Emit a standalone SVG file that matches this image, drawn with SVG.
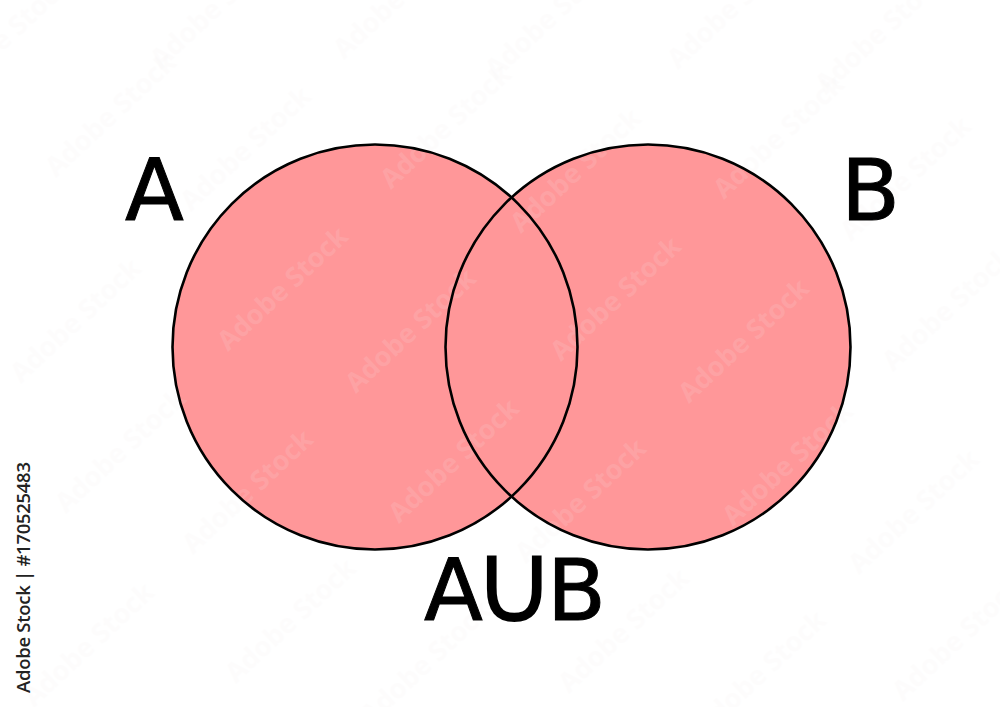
<svg xmlns="http://www.w3.org/2000/svg" width="1000" height="707" viewBox="0 0 1000 707">
<style>
.c{fill:#ff9799;stroke:none}
.o{fill:none;stroke:#000;stroke-width:2.6}
.t{font-family:"DejaVu Sans","Liberation Sans",sans-serif;fill:#000;stroke:#000;stroke-width:1;font-size:86px}
.w{font-family:"Open Sans","Liberation Sans",sans-serif;font-weight:700;font-size:27px;fill:#f4eeee;opacity:.13}
</style>
<rect width="1000" height="707" fill="#fff"/>
<g id="circle-a"><circle class="c" cx="375" cy="347" r="202.500"/></g>
<g id="circle-b"><circle class="c" cx="648" cy="347" r="202.500"/></g>
<g id="watermark">
<text class="w" transform="translate(-49 100) rotate(-43)">Adobe Stock</text>
<text class="w" transform="translate(161 70) rotate(-43)">Adobe Stock</text>
<text class="w" transform="translate(344 60) rotate(-43)">Adobe Stock</text>
<text class="w" transform="translate(496 80) rotate(-43)">Adobe Stock</text>
<text class="w" transform="translate(678 70) rotate(-43)">Adobe Stock</text>
<text class="w" transform="translate(826 95) rotate(-43)">Adobe Stock</text>
<text class="w" transform="translate(56 178) rotate(-43)">Adobe Stock</text>
<text class="w" transform="translate(191 212) rotate(-43)">Adobe Stock</text>
<text class="w" transform="translate(391 190) rotate(-43)">Adobe Stock</text>
<text class="w" transform="translate(521 234) rotate(-43)">Adobe Stock</text>
<text class="w" transform="translate(724 200) rotate(-43)">Adobe Stock</text>
<text class="w" transform="translate(851 242) rotate(-43)">Adobe Stock</text>
<text class="w" transform="translate(21 384) rotate(-43)">Adobe Stock</text>
<text class="w" transform="translate(228 352) rotate(-43)">Adobe Stock</text>
<text class="w" transform="translate(356 394) rotate(-43)">Adobe Stock</text>
<text class="w" transform="translate(561 362) rotate(-43)">Adobe Stock</text>
<text class="w" transform="translate(689 404) rotate(-43)">Adobe Stock</text>
<text class="w" transform="translate(893 372) rotate(-43)">Adobe Stock</text>
<text class="w" transform="translate(66 514) rotate(-43)">Adobe Stock</text>
<text class="w" transform="translate(193 555) rotate(-43)">Adobe Stock</text>
<text class="w" transform="translate(399 524) rotate(-43)">Adobe Stock</text>
<text class="w" transform="translate(526 564) rotate(-43)">Adobe Stock</text>
<text class="w" transform="translate(733 527) rotate(-43)">Adobe Stock</text>
<text class="w" transform="translate(859 575) rotate(-43)">Adobe Stock</text>
<text class="w" transform="translate(34 708) rotate(-43)">Adobe Stock</text>
<text class="w" transform="translate(236 684) rotate(-43)">Adobe Stock</text>
<text class="w" transform="translate(371 726) rotate(-43)">Adobe Stock</text>
<text class="w" transform="translate(569 694) rotate(-43)">Adobe Stock</text>
<text class="w" transform="translate(706 736) rotate(-43)">Adobe Stock</text>
<text class="w" transform="translate(903 702) rotate(-43)">Adobe Stock</text>
</g>
<g id="outlines"><circle class="o" cx="375" cy="347" r="202.500"/><circle class="o" cx="648" cy="347" r="202.500"/></g>
<g id="label-a"><text class="t" x="125" y="220">A</text></g>
<g id="label-b"><text class="t" x="841" y="220">B</text></g>
<g id="label-union"><text class="t" y="620"><tspan x="424">A</tspan><tspan x="472" y="622" font-size="115" stroke-width="0">∪</tspan><tspan x="547" y="620">B</tspan></text></g>
<g id="credit"><text transform="translate(30 693) rotate(-90)" font-family="Open Sans,sans-serif" font-size="18.500" font-weight="600" fill="#222" textLength="231">Adobe Stock | #170525483</text></g>
</svg>
